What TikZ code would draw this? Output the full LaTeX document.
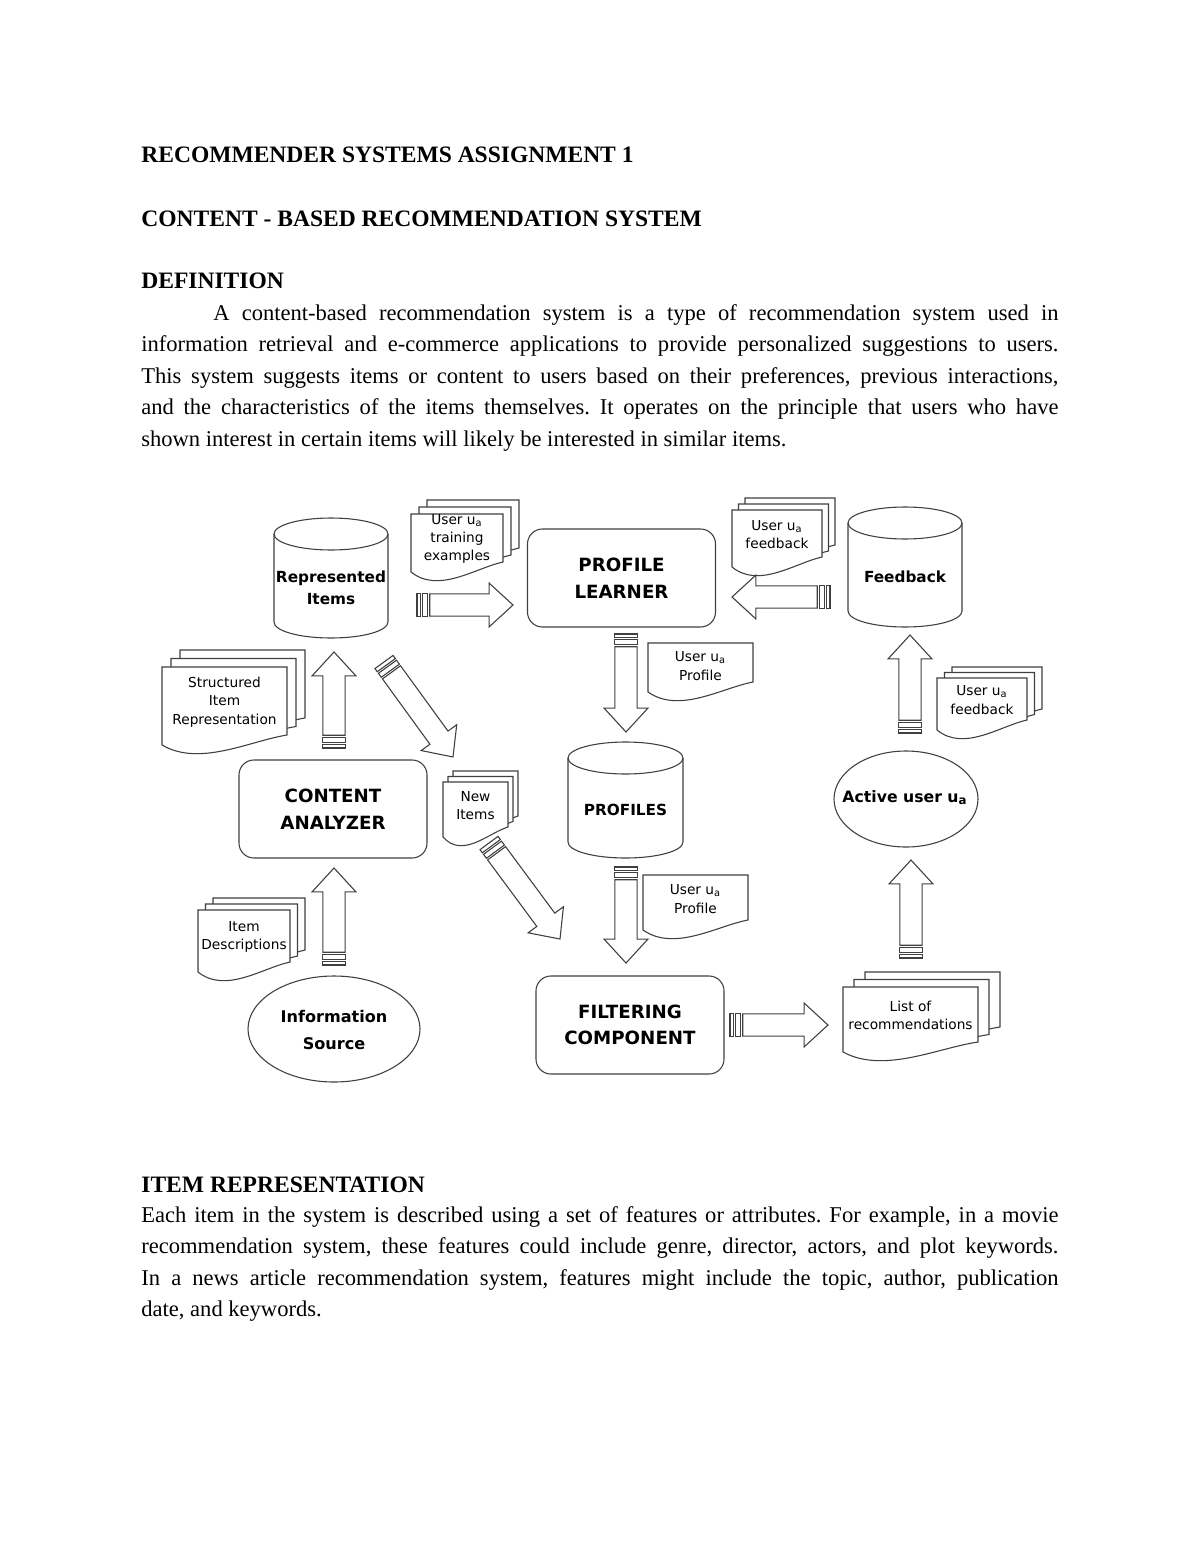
\documentclass[tikz,border=0pt]{standalone}
\usepackage{fontspec}
\setmainfont{Liberation Serif}
\newfontfamily\diafont{DejaVu Sans}
\usetikzlibrary{calc,shapes.geometric}

% one pixel of the page
\def\upx{0.51pt}

\tikzset{
  outline/.style={draw=black!75, line width=0.55pt},
  fatline/.style={outline, fill=white, line join=miter},
  docline/.style={outline, fill=white},
  procbox/.style={outline, rounded corners=7.6pt, minimum width=188*\upx, minimum height=98*\upx, inner sep=0pt, align=center, font=\diafont\bfseries\fontsize{9.3}{13.5}\selectfont},
  ovalnode/.style={outline, ellipse, inner sep=0pt},
  ovaltext/.style={inner sep=0pt, align=center, font=\diafont\bfseries\fontsize{8}{13.3}\selectfont},
  cylbody/.style={draw=none, inner sep=0pt},
  cyltext/.style={inner sep=0pt, align=center, font=\diafont\bfseries\fontsize{7.8}{11.2}\selectfont},
  doclabel/.style={inner sep=0pt, align=center, font=\diafont\fontsize{7}{9.3}\selectfont},
  headtext/.style={anchor=base west, inner sep=0pt, font=\bfseries\fontsize{12}{14}\selectfont},
  bodytext/.style={anchor=north west, inner sep=0pt, text width=467.7pt, align=justify, font=\frenchspacing\fontsize{11.5}{16.07}\selectfont},
}

% striped block arrow from tail #1 to tip #2
\newcommand{\fatarrow}[2]{%
  \coordinate (fa-p) at ($(#1)!2pt!(#2)$);
  \coordinate (fa-q) at ($(#1)!3pt!(#2)$);
  \coordinate (fa-r) at ($(#1)!5.5pt!(#2)$);
  \coordinate (fa-b) at ($(#1)!6.5pt!(#2)$);
  \coordinate (fa-h) at ($(#2)!12.2pt!(#1)$);
  \draw[fatline] ($(#1)!5.7pt!90:(#2)$) -- ($(fa-p)!5.7pt!90:(#2)$) -- ($(fa-p)!5.7pt!-90:(#2)$) -- ($(#1)!5.7pt!-90:(#2)$) -- cycle;
  \draw[fatline] ($(fa-q)!5.7pt!90:(#2)$) -- ($(fa-r)!5.7pt!90:(#2)$) -- ($(fa-r)!5.7pt!-90:(#2)$) -- ($(fa-q)!5.7pt!-90:(#2)$) -- cycle;
  \draw[fatline] ($(fa-b)!5.7pt!90:(#2)$) -- ($(fa-h)!5.7pt!90:(#2)$) -- ($(fa-h)!11.2pt!90:(#2)$) -- (#2)
    -- ($(fa-h)!11.2pt!-90:(#2)$) -- ($(fa-h)!5.7pt!-90:(#2)$) -- ($(fa-b)!5.7pt!-90:(#2)$) -- cycle;
}

% one sheet with a wavy lower edge: x0, y0, width, height
\newcommand{\docsheet}[4]{%
  \filldraw[docline] (#1,#2) -- (#1+#3,#2) -- (#1+#3,#2+#4-10)
    .. controls (#1+0.7*#3,#2+#4-4) and (#1+0.3*#3,#2+#4+22) .. (#1,#2+#4) -- cycle;
}

% three sheets: name, x0, y0, width, height, dx, dy, text
\newcommand{\docstack}[8]{%
  \docsheet{#2+2*#6}{#3-2*#7}{#4}{#5}
  \docsheet{#2+#6}{#3-#7}{#4}{#5}
  \docsheet{#2}{#3}{#4}{#5}
  \node[doclabel] (#1) at (#2+#4/2,#3+#5/2-4) {#8};
}

% database: name, cx, cy, width, height, text
\newcommand{\dbcyl}[6]{%
  \pgfmathsetmacro{\cyL}{#2-#4/2}%
  \pgfmathsetmacro{\cyR}{#2+#4/2}%
  \pgfmathsetmacro{\cyT}{#3-#5/2+16}%
  \pgfmathsetmacro{\cyB}{#3+#5/2-16}%
  \node[cylbody, minimum width=#4*\upx, minimum height=#5*\upx] (#1) at (#2,#3) {};
  \draw[outline] (\cyL,\cyT) -- (\cyL,\cyB) .. controls (\cyL,\cyB+9) and (#2-0.276*#4,\cyB+16) .. (#2,\cyB+16)
    .. controls (#2+0.276*#4,\cyB+16) and (\cyR,\cyB+9) .. (\cyR,\cyB) -- (\cyR,\cyT);
  \draw[outline] (#2,\cyT) ellipse [x radius=#4/2*\upx, y radius=16*\upx];
  \node[cyltext] (#1-t) at (#2,#3+10) {#6};
}

\begin{document}
\begin{tikzpicture}[x=0.51pt, y=-0.51pt]
  \path[use as bounding box, fill=white] (0,0) rectangle (1200,1553);

  % Text above
  \node[headtext] (title) at (141,163) {RECOMMENDER SYSTEMS ASSIGNMENT 1};
  \node[headtext] (subtitle) at (141,226) {CONTENT - BASED RECOMMENDATION SYSTEM};
  \node[headtext] (defhead) at (141,288) {DEFINITION};
  \node[bodytext] (defpar) at (141,298) {\strut\hspace*{36.7pt}A content-based recommendation system is a type of recommendation system used in\linebreak
    information retrieval and e-commerce applications to provide personalized suggestions to users.\linebreak
    This system suggests items or content to users based on their preferences, previous interactions,\linebreak
    and the characteristics of the items themselves. It operates on the principle that users who have\linebreak
    shown interest in certain items will likely be interested in similar items.};

  % Nodes
  \node[procbox] at (621.5,578) (plearner) {PROFILE\\LEARNER};
  \node[procbox] at (333,809) (canalyzer) {CONTENT\\ANALYZER};
  \node[procbox] at (630,1025) (fcomp) {FILTERING\\COMPONENT};

  \dbcyl{ritems}{331}{578}{114}{120}{Represented\\Items}
  \dbcyl{fback}{905}{567}{114}{120}{Feedback}
  \dbcyl{profiles}{625.5}{800}{115}{116}{PROFILES}

  \node[ovalnode, minimum width=144*\upx, minimum height=96*\upx] at (906,799) (auser) {};
  \node[ovaltext] at (905,798) (auser-t) {Active user u\textsubscript{a}};
  \node[ovalnode, minimum width=172*\upx, minimum height=106*\upx] at (334,1029) (isrc) {};
  \node[ovaltext, font=\diafont\bfseries\fontsize{8.2}{13.3}\selectfont] at (334,1030) (isrc-t) {Information\\Source};

  % Documents
  \docstack{trainex}{411}{514}{92}{58}{8}{7}{User u\textsubscript{a}\\training\\examples}
  \docstack{sirep}{162}{667}{125}{78}{9}{8.5}{Structured\\Item\\Representation}
  \docstack{ufback}{732}{510}{90}{57}{6.5}{6}{User u\textsubscript{a}\\feedback}
  \docstack{ufbackb}{937}{678}{90}{52}{7.5}{5.5}{User u\textsubscript{a}\\feedback}
  \docstack{newitems}{443}{782}{65}{55}{5}{5.5}{New\\Items}
  \docstack{itdesc}{198}{910}{92}{62}{7.5}{6}{Item\\Descriptions}
  \docstack{reclist}{843}{987}{135}{65}{11}{7.5}{List of\\recommendations}
  \docsheet{648}{643}{105}{49}
  \node[doclabel] at (700.5,666) (uprofile) {User u\textsubscript{a}\\Profile};
  \docsheet{643}{875}{105}{55}
  \node[doclabel] at (695.5,899) (uprofileb) {User u\textsubscript{a}\\Profile};

  % Arrow ends
  \coordinate (is-s) at (334,965);   \coordinate (is-e) at (334,868);
  \coordinate (ca-s) at (334,748);   \coordinate (ca-e) at (334,652);
  \coordinate (ri-s) at (417,605);   \coordinate (ri-e) at (513,605);
  \coordinate (pl-s) at (626,634);   \coordinate (pl-e) at (626,732);
  \coordinate (pr-s) at (626,867);   \coordinate (pr-e) at (626,963);
  \coordinate (fc-s) at (730,1025);  \coordinate (fc-e) at (828,1025);
  \coordinate (rl-s) at (911,958);   \coordinate (rl-e) at (911,860);
  \coordinate (au-s) at (910,733);   \coordinate (au-e) at (910,635);
  \coordinate (fb-s) at (830,597);   \coordinate (fb-e) at (732,597);
  \coordinate (dg-s) at (384,662);   \coordinate (dg-e) at (453,757);
  \coordinate (ni-s) at (489,843);   \coordinate (ni-e) at (560,939);

  \fatarrow{is-s}{is-e}
  \fatarrow{ca-s}{ca-e}
  \fatarrow{ri-s}{ri-e}
  \fatarrow{pl-s}{pl-e}
  \fatarrow{pr-s}{pr-e}
  \fatarrow{fc-s}{fc-e}
  \fatarrow{rl-s}{rl-e}
  \fatarrow{au-s}{au-e}
  \fatarrow{fb-s}{fb-e}
  \fatarrow{dg-s}{dg-e}
  \fatarrow{ni-s}{ni-e}

  % Text below
  \node[headtext] (itemhead) at (141,1192) {ITEM REPRESENTATION};
  \node[bodytext] (itempar) at (141,1200) {\strut Each item in the system is described using a set of features or attributes. For example, in a movie\linebreak
    recommendation system, these features could include genre, director, actors, and plot keywords.\linebreak
    In a news article recommendation system, features might include the topic, author, publication\linebreak
    date, and keywords.};
\end{tikzpicture}
\end{document}
